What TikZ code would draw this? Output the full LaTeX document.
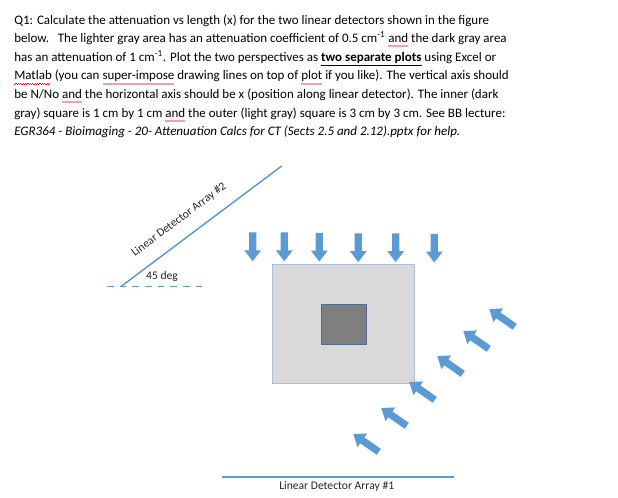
\documentclass[tikz,border=0pt]{standalone}
\usepackage{fontspec}
\setmainfont{Carlito}
\usetikzlibrary{shapes.arrows}
\definecolor{beamblue}{RGB}{91,155,213}
\definecolor{outergray}{RGB}{217,217,217}
\definecolor{innergray}{RGB}{127,127,127}
\definecolor{outeredge}{RGB}{170,190,215}
\definecolor{inneredge}{RGB}{84,110,145}
\definecolor{flagpink}{RGB}{242,160,175}
\definecolor{labelgray}{RGB}{38,38,38}
\newcommand\flagword[1]{\setbox0\hbox{#1}\rlap{\color{flagpink}\rule[-3.6pt]{\wd0}{1.5pt}}\box0\relax}
\newcommand\spellwave[1]{\setbox0\hbox{#1}\rlap{\color{red}\leaders\hbox{\rule[-3.8pt]{0.9pt}{0.6pt}\rule[-3.2pt]{0.9pt}{0.6pt}}\hskip\wd0}\box0\relax}

\begin{document}
\begin{tikzpicture}[x=0.75pt,y=0.75pt,yscale=-1,xscale=1,
	beam/.style={single arrow, fill=beamblue, draw=none, inner xsep=0pt, inner ysep=2.5pt, anchor=tail,
		minimum height=21.6pt, single arrow head extend=3.6pt, single arrow tip angle=75},
	detector/.style={color=beamblue, line width=1.1pt},
	lbl/.style={inner sep=0.75pt, font=\fontsize{8.7}{10}\selectfont, text=labelgray}]
		\useasboundingbox (0,0) rectangle (618,497);
		
		% Text Node
		\draw (14,14.3) node (question) [anchor=north west][inner sep=0pt]  [font=\fontsize{9.75}{13.95}\selectfont] [align=left] {Q1: Calculate the attenuation vs length (x) for the two linear detectors shown in the figure\\
			below.\ \ \ The lighter gray area has an attenuation coefficient of 0.5 cm\textsuperscript{-1} \flagword{and} the dark gray area\\
			has an attenuation of 1 cm\textsuperscript{-1}. Plot the two perspectives as \underline{\textbf{two separate plots}} using Excel or\\
			\spellwave{Matlab} (you can \flagword{super-impose} drawing lines on top of \flagword{plot} if you like). The vertical axis should\\
			be N/No \flagword{and} the horizontal axis should be x (position along linear detector). The inner (dark\\
			gray) square is 1 cm by 1 cm \flagword{and} the outer (light gray) square is 3 cm by 3 cm. See BB lecture:\\
			\textit{EGR364 - Bioimaging - 20- Attenuation Calcs for CT (Sects 2.5 and 2.12).pptx for help.}};
		
		%Shape: Rectangle
		\draw [draw=outeredge, fill=outergray, line width=0.75] (272.3,264.3) rectangle (414,383.3) ;
		%Shape: Rectangle
		\draw [draw=inneredge, fill=innergray, line width=0.75] (321,304.3) rectangle (366,344) ;
		
		%Straight Lines
		\coordinate (pivot) at (120.7,286.7);
		\coordinate (arr2end) at (281.7,166);
		\draw [detector]    (pivot) -- (arr2end) ;
		%Straight Lines
		\draw [detector, dash pattern=on 5pt off 4.5pt]    (107,286.7) -- (205,286.7) ;
		%Straight Lines
		\draw [detector, line width=1.4pt]    (221.7,476.7) -- (454,476.7) ;
		
		%Down Arrows
		\node (ray1) [beam, rotate=-90, anchor=tip] at (252.7,261.7) {};
		\node (ray2) [beam, rotate=-90, anchor=tip] at (284.3,261.7) {};
		\node (ray3) [beam, rotate=-90, anchor=tip] at (319.3,262) {};
		\node (ray4) [beam, rotate=-90, anchor=tip] at (358.3,262.5) {};
		\node (ray5) [beam, rotate=-90, anchor=tip] at (395.7,262.5) {};
		\node (ray6) [beam, rotate=-90, anchor=tip] at (434.3,263) {};
		
		%Slanted Arrows
		\node (slant1) [beam, rotate=145, minimum height=23.3pt] at (379,452) {};
		\node (slant2) [beam, rotate=145, minimum height=23.3pt] at (407,426) {};
		\node (slant3) [beam, rotate=145, minimum height=23.3pt] at (435,400) {};
		\node (slant4) [beam, rotate=145, minimum height=23.3pt] at (463,374) {};
		\node (slant5) [beam, rotate=145, minimum height=23.3pt] at (489,349) {};
		\node (slant6) [beam, rotate=145, minimum height=23.3pt] at (515,327) {};
		
		% Text Node
		\draw (179,220) node (array2) [lbl, rotate=36.9] {Linear Detector Array \#2};
		% Text Node
		\draw (162,276.8) node (angle) [lbl] {45 deg};
		% Text Node
		\draw (336.7,486) node (array1) [lbl] {Linear Detector Array \#1};
		
\end{tikzpicture}
\end{document}
